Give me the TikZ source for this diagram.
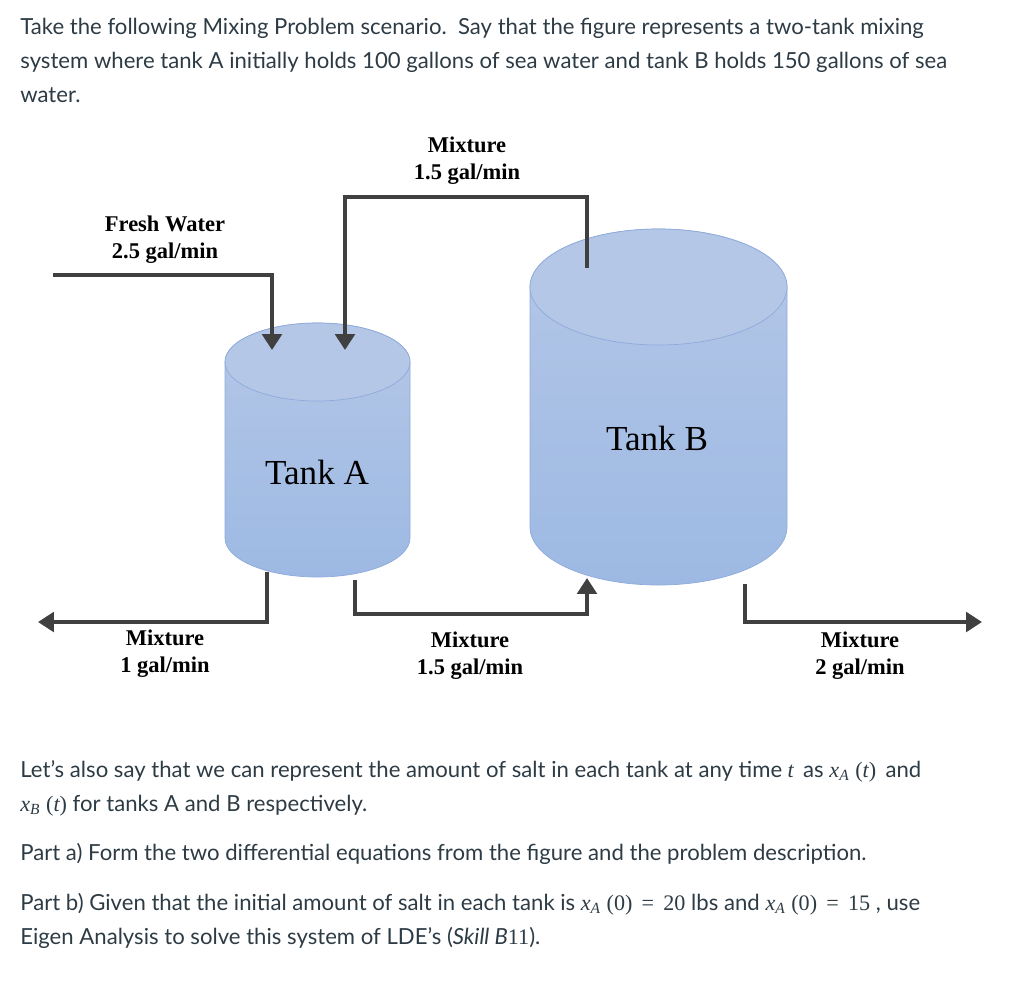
\documentclass[tikz,border=0pt]{standalone}
\usepackage{fontspec}
\setmainfont{Lato}
\newfontfamily\tnr{Liberation Serif}
\usetikzlibrary{arrows.meta}
\definecolor{pipe}{HTML}{404040}
\definecolor{tanktop}{HTML}{B4C7E7}
\definecolor{tankbot}{HTML}{9DB9E3}
\definecolor{tankedge}{HTML}{8EAADB}
\definecolor{txt}{HTML}{2D3B45}
\newcommand{\mv}[1]{{\tnr\itshape #1}}
\newcommand{\mr}[1]{{\tnr #1}}
\newcommand{\xsub}[1]{\mv{x}\textsubscript{\mv{#1}}}
\begin{document}
\begin{tikzpicture}[x=0.02cm,y=-0.02cm,
  pipeline/.style={draw=pipe,line width=2.6pt},
  arr/.style={pipeline,-{Triangle[length=9pt,width=11pt]}},
  lab/.style={font=\tnr\bfseries\fontsize{12.8}{15.5}\selectfont,align=center,text=black},
  tanklab/.style={font=\tnr\fontsize{20}{22}\selectfont,text=black},
  body/.style={font=\fontsize{12.6}{19.3}\selectfont,text=txt,align=left,anchor=north west,inner sep=0pt}]
\useasboundingbox (0,0) rectangle (1024,985);
% tanks
\shade[top color=tanktop,bottom color=tankbot,draw=tankedge]
  (225,362) -- (225,538) arc[start angle=180,end angle=0,x radius=92.5,y radius=39] -- (410,362) arc[start angle=0,end angle=-180,x radius=92.5,y radius=39];
\draw[draw=tankedge,fill=tanktop] (317.5,362) ellipse[x radius=92.5,y radius=39];
\shade[top color=tanktop,bottom color=tankbot,draw=tankedge]
  (530,287) -- (530,527) arc[start angle=180,end angle=0,x radius=128.5,y radius=58] -- (787,287) arc[start angle=0,end angle=-180,x radius=128.5,y radius=58];
\draw[draw=tankedge,fill=tanktop] (658.5,287) ellipse[x radius=128.5,y radius=58];
\node[tanklab] (ta) at (317,472) {Tank A};
\node[tanklab] (tb) at (657,438) {Tank B};
% pipes
\coordinate (f0) at (53,275); \coordinate (f1) at (272,275); \coordinate (f2) at (272,350);
\draw[arr] (f0) -- (f1) -- (f2);
\coordinate (m0) at (587,268); \coordinate (m1) at (587,197); \coordinate (m2) at (345,197); \coordinate (m3) at (345,350);
\draw[arr] (m0) -- (m1) -- (m2) -- (m3);
\coordinate (a0) at (267,572); \coordinate (a1) at (267,622); \coordinate (a2) at (38,622);
\draw[arr] (a0) -- (a1) -- (a2);
\coordinate (b0) at (355,580); \coordinate (b1) at (355,614); \coordinate (b2) at (587,614); \coordinate (b3) at (587,578);
\draw[arr] (b0) -- (b1) -- (b2) -- (b3);
\coordinate (c0) at (745,584); \coordinate (c1) at (745,622); \coordinate (c2) at (982,622);
\draw[arr] (c0) -- (c1) -- (c2);
% labels
\node[lab] (l1) at (467,161) {Mixture\\1.5 gal/min};
\node[lab] (l2) at (165,240) {Fresh Water\\2.5 gal/min};
\node[lab] (l3) at (165,654) {Mixture\\1 gal/min};
\node[lab] (l4) at (470,656) {Mixture\\1.5 gal/min};
\node[lab] (l5) at (860,656) {Mixture\\2 gal/min};
% text
\node[body] (t1) at (20,18) {Take the following Mixing Problem scenario.\ \ Say that the figure represents a two-tank mixing\\system where tank A initially holds 100 gallons of sea water and tank B holds 150 gallons of sea\\water.};
\node[body] (t2) at (20,760) {Let's also say that we can represent the amount of salt in each tank at any time \mv{t} \,as \xsub{A} \mr{(}\mv{t}\mr{)} \,and\\\xsub{B} \mr{(}\mv{t}\mr{)} for tanks A and B respectively.};
\node[body] (t4) at (20,843) {Part a) Form the two differential equations from the figure and the problem description.};
\node[body] (t5) at (20,893) {Part b) Given that the initial amount of salt in each tank is \xsub{A} \mr{(0) \,=\, 20} lbs and \xsub{A} \mr{(0) \,=\, 15} , use\\Eigen Analysis to solve this system of LDE's ({\itshape Skill B}\mr{11}).};
\end{tikzpicture}
\end{document}
